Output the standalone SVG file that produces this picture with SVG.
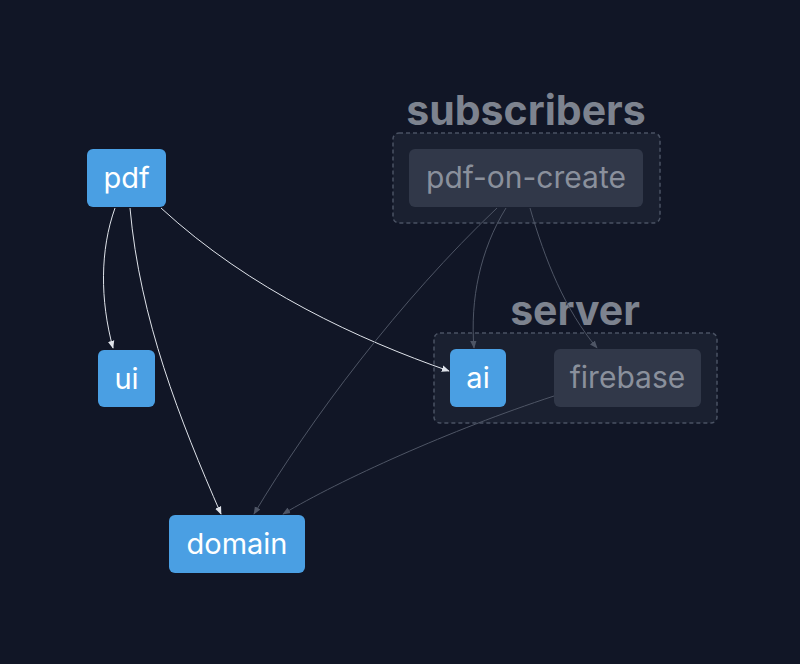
<svg xmlns="http://www.w3.org/2000/svg" width="800" height="664" viewBox="0 0 800 664">
<style>
.n{fill:#4a9fe3;}
.nt{fill:#fff;font-family:Inter,"Liberation Sans",sans-serif;font-size:29px;text-anchor:middle;}
.m{fill:#313849;}
.mt{fill:#8a909c;font-family:Inter,"Liberation Sans",sans-serif;font-size:30px;text-anchor:middle;}
.c{fill:#1a2030;stroke:#4a5263;stroke-width:1.5;stroke-dasharray:4 3;}
.ct{fill:#7d838f;font-family:Inter,"Liberation Sans",sans-serif;font-size:41px;font-weight:bold;text-anchor:middle;}
.e{fill:none;stroke:#dfe3ea;stroke-width:1;}
.d{fill:none;stroke:#4e5565;stroke-width:1;}
</style>
<defs>
<marker id="a" viewBox="0 0 10 10" refX="9" refY="5" markerWidth="8" markerHeight="8" orient="auto"><path d="M0,1L10,5L0,9z" fill="#dfe3ea"/></marker>
<marker id="b" viewBox="0 0 10 10" refX="9" refY="5" markerWidth="8" markerHeight="8" orient="auto"><path d="M0,1L10,5L0,9z" fill="#4e5565"/></marker>
</defs>
<rect width="800" height="664" fill="#111626"/>
<g id="subscribers"><rect class="c" x="393" y="133" width="267" height="90" rx="6"/><text class="ct" x="526" y="125">subscribers</text></g>
<g id="server"><rect class="c" x="434" y="333" width="283" height="90" rx="6"/><text class="ct" x="575" y="325">server</text></g>
<g id="connectors">
<path class="e" marker-end="url(#a)" d="M115,208C100,250 100,300 113,348"/>
<path class="e" marker-end="url(#a)" d="M130,208C140,320 180,420 221,514"/>
<path class="e" marker-end="url(#a)" d="M161,208C250,290 360,340 449,371"/>
<path class="d" marker-end="url(#b)" d="M497,208C400,300 310,420 254,514"/>
<path class="d" marker-end="url(#b)" d="M506,208C480,250 470,300 474,348"/>
<path class="d" marker-end="url(#b)" d="M530,208C545,260 565,310 597,348"/>
<path class="d" marker-end="url(#b)" d="M554,396C450,430 340,480 283,514"/>
</g>
<g id="pdf"><rect class="n" x="87" y="149" width="79" height="58" rx="6"/><text class="nt" x="126.5" y="188">pdf</text></g>
<g id="ui"><rect class="n" x="98" y="350" width="57" height="57" rx="6"/><text class="nt" x="126.5" y="389">ui</text></g>
<g id="domain"><rect class="n" x="169" y="515" width="136" height="58" rx="6"/><text class="nt" x="237" y="554">domain</text></g>
<g id="ai"><rect class="n" x="450" y="349" width="56" height="58" rx="6"/><text class="nt" x="478" y="388">ai</text></g>
<g id="firebase"><rect class="m" x="554" y="349" width="147" height="58" rx="6"/><text class="mt" x="627.5" y="388">firebase</text></g>
<g id="pdf-on-create"><rect class="m" x="409" y="149" width="234" height="58" rx="6"/><text class="mt" x="526" y="188">pdf-on-create</text></g>
</svg>
